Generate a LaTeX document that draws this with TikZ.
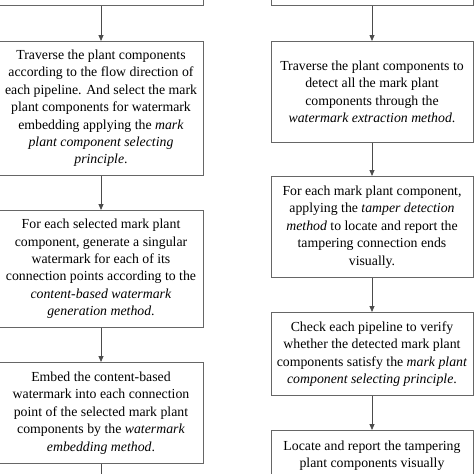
\documentclass[tikz,border=0pt]{standalone}
\usepackage{fontspec}
\setmainfont{Liberation Serif}
\usetikzlibrary{arrows.meta}
\begin{document}
\begin{tikzpicture}[x=1pt,y=-1pt,
  boxL/.style={draw=black!60, line width=0.9pt, rectangle, inner sep=0pt, minimum width=204pt, align=center, anchor=north, font=\fontsize{13.8}{17.4}\selectfont, text=black},
  boxR/.style={boxL, minimum width=202pt},
  flow/.style={draw=black!70, line width=0.8pt, -{Triangle[length=6pt,width=5pt]}},
  plain/.style={draw=black!70, line width=0.8pt}]
\useasboundingbox (0,0) rectangle (474,474);
\clip (0,0) rectangle (474,474);
% top (cut) boxes
\node[boxL, anchor=south, minimum height=40pt] (L0) at (101,6) {};
\node[boxR, anchor=south, minimum height=40pt] (R0) at (372,6) {};
% left column
\node[boxL, minimum height=134pt] (L1) at (101,41) {Traverse the plant components\\according to the flow direction of\\each pipeline. And select the mark\\plant components for watermark\\embedding applying the \textit{mark}\\\textit{plant component selecting}\\\textit{principle}.};
\node[boxL, minimum height=117pt] (L2) at (101,210) {For each selected mark plant\\component, generate a singular\\watermark for each of its\\connection points according to the\\\textit{content-based watermark}\\\textit{generation method}.};
\node[boxL, minimum height=101pt] (L3) at (101,362) {Embed the content-based\\watermark into each connection\\point of the selected mark plant\\components by the \textit{watermark}\\\textit{embedding method}.};
\coordinate (Lend) at (101,485);
% right column
\node[boxR, minimum height=101pt] (R1) at (372,41) {Traverse the plant components to\\detect all the mark plant\\components through the\\\textit{watermark extraction method}.};
\node[boxR, minimum height=101pt] (R2) at (372,176) {For each mark plant component,\\applying the \textit{tamper detection}\\\textit{method} to locate and report the\\tampering connection ends\\visually.};
\node[boxR, minimum height=83pt] (R3) at (372,312) {Check each pipeline to verify\\whether the detected mark plant\\components satisfy the \textit{mark plant}\\\textit{component selecting principle}.};
\node[boxR, minimum height=50pt] (R4) at (372,430) {Locate and report the tampering\\plant components visually};
% connectors
\draw[flow] (L0) -- (L1);
\draw[flow] (L1) -- (L2);
\draw[flow] (L2) -- (L3);
\draw[plain] (L3) -- (Lend);
\draw[flow] (R0) -- (R1);
\draw[flow] (R1) -- (R2);
\draw[flow] (R2) -- (R3);
\draw[flow] (R3) -- (R4);
\end{tikzpicture}
\end{document}
